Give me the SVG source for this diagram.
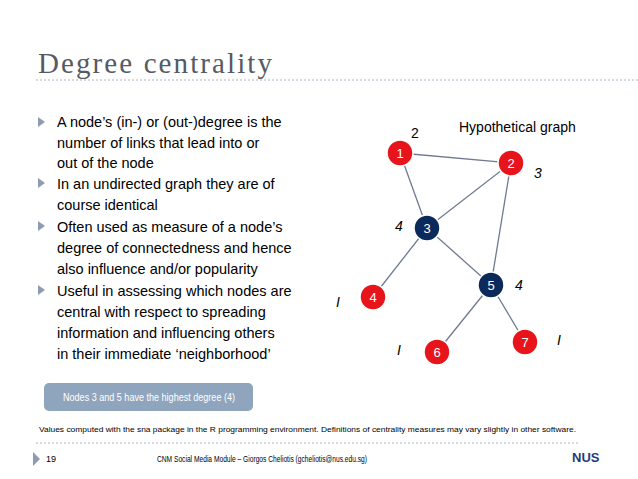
<svg xmlns="http://www.w3.org/2000/svg" width="638" height="479" viewBox="0 0 638 479">
<style>
.b{font-family:"Liberation Sans",sans-serif;font-size:14.5px;fill:#000}
.n circle{stroke:#fff;stroke-width:1.5}
.r{fill:#e8141b}.d{fill:#0b2a5b}
.n text{font-family:"Liberation Sans",sans-serif;font-size:13px;fill:#fff;text-anchor:middle}
.deg{font-family:"Liberation Sans",sans-serif;font-size:14px;font-style:italic;fill:#000}
.e line{stroke:#6e7a91;stroke-width:1.3}
.dash{stroke:#a9b6c4;stroke-width:1;stroke-dasharray:2 2}
</style>
<rect width="638" height="479" fill="#fff"/>
<text x="38" y="73" font-family="Liberation Serif,serif" font-size="29" fill="#555a63" textLength="234" lengthAdjust="spacing">Degree centrality</text>
<line class="dash" x1="36" y1="80" x2="638" y2="80"/>
<g fill="#8d9cb2">
<polygon points="38,117 38,127 45,122"/><polygon points="38,178 38,188 45,183"/><polygon points="38,221 38,231 45,226"/><polygon points="38,285 38,295 45,290"/>
</g>
<text class="b"><tspan x="57" y="127">A node’s (in-) or (out-)degree is the</tspan><tspan x="57" y="148">number of links that lead into or</tspan><tspan x="57" y="168">out of the node</tspan>
<tspan x="57" y="189">In an undirected graph they are of</tspan><tspan x="57" y="210">course identical</tspan>
<tspan x="57" y="232">Often used as measure of a node’s</tspan><tspan x="57" y="253">degree of connectedness and hence</tspan><tspan x="57" y="274">also influence and/or popularity</tspan>
<tspan x="57" y="296">Useful in assessing which nodes are</tspan><tspan x="57" y="317">central with respect to spreading</tspan><tspan x="57" y="338">information and influencing others</tspan><tspan x="57" y="359">in their immediate ‘neighborhood’</tspan></text>
<text x="459" y="132" font-family="Liberation Sans,sans-serif" font-size="14">Hypothetical graph</text>
<g class="e">
<line x1="400" y1="153" x2="511" y2="163"/><line x1="400" y1="153" x2="427" y2="228"/><line x1="511" y1="163" x2="427" y2="228"/><line x1="511" y1="163" x2="491" y2="285"/><line x1="427" y1="228" x2="491" y2="285"/><line x1="427" y1="228" x2="373" y2="297"/><line x1="491" y1="285" x2="437" y2="352"/><line x1="491" y1="285" x2="525" y2="342"/>
</g>
<g class="n" id="n1"><circle class="r" cx="400" cy="153" r="13"/><text x="400" y="158">1</text></g>
<g class="n" id="n2"><circle class="r" cx="511" cy="163" r="13"/><text x="511" y="168">2</text></g>
<g class="n" id="n3"><circle class="d" cx="427" cy="228" r="13"/><text x="427" y="233">3</text></g>
<g class="n" id="n4"><circle class="r" cx="373" cy="297" r="13"/><text x="373" y="302">4</text></g>
<g class="n" id="n5"><circle class="d" cx="491" cy="285" r="13"/><text x="491" y="290">5</text></g>
<g class="n" id="n6"><circle class="r" cx="437" cy="352" r="13"/><text x="437" y="357">6</text></g>
<g class="n" id="n7"><circle class="r" cx="525" cy="342" r="13"/><text x="525" y="347">7</text></g>
<text class="deg" style="font-style:normal" x="411" y="138">2</text>
<text class="deg" x="534" y="178">3</text>
<text class="deg" x="395" y="231">4</text>
<text class="deg" x="515" y="290">4</text>
<text class="deg" x="336" y="307">I</text>
<text class="deg" x="397" y="355">I</text>
<text class="deg" x="557" y="345">I</text>
<rect x="44" y="383" width="209" height="28" rx="5" fill="#8fa5bd"/>
<text x="63" y="401" font-family="Liberation Sans,sans-serif" font-size="10" fill="#fff" textLength="172" lengthAdjust="spacingAndGlyphs">Nodes 3 and 5 have the highest degree (4)</text>
<text x="39" y="432" font-family="Liberation Sans,sans-serif" font-size="7.6" textLength="537" lengthAdjust="spacingAndGlyphs">Values computed with the sna package in the R programming environment. Definitions of centrality measures may vary slightly in other software.</text>
<line class="dash" x1="36" y1="443" x2="580" y2="443"/>
<polygon points="33,452 33,466 40,459" fill="#8d9cb2"/>
<text x="46" y="462" font-family="Liberation Sans,sans-serif" font-size="9">19</text>
<text x="157" y="462" font-family="Liberation Sans,sans-serif" font-size="9" textLength="210" lengthAdjust="spacingAndGlyphs">CNM Social Media Module – Giorgos Cheliotis (gcheliotis@nus.edu.sg)</text>
<text x="572" y="462" font-family="Liberation Sans,sans-serif" font-size="13" font-weight="bold" fill="#1f3c7a">NUS</text>
</svg>
